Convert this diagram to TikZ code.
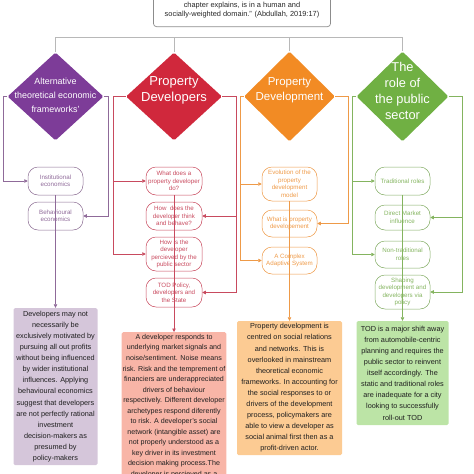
\documentclass[tikz,border=0pt]{standalone}
\usepackage{fontspec}
\setmainfont{Liberation Sans}
\usetikzlibrary{shapes.geometric,arrows.meta}
\definecolor{cpur}{HTML}{7D3C98}
\definecolor{cred}{HTML}{D0283C}
\definecolor{corg}{HTML}{F28B24}
\definecolor{cgrn}{HTML}{70B043}
\definecolor{lpur}{HTML}{8F6A99}
\definecolor{lred}{HTML}{C84A5E}
\definecolor{lorg}{HTML}{EE9A48}
\definecolor{lgrn}{HTML}{84B45F}
\definecolor{ptfill}{HTML}{D5C6DA}
\definecolor{rtfill}{HTML}{F8B5A7}
\definecolor{otfill}{HTML}{FCCB93}
\definecolor{gtfill}{HTML}{BCE4A6}
\definecolor{gline}{HTML}{B8B8B8}
\definecolor{gbord}{HTML}{8C8C8C}
\begin{document}
\begin{tikzpicture}[x=1pt,y=-1pt,
 dia/.style={diamond,draw=none,inner sep=0pt,rounded corners=1.5pt},
 diatext/.style={text=white,align=center,inner sep=0pt},
 qbox/.style={draw,rounded corners=10pt,minimum width=55pt,inner sep=1pt,align=center,font=\fontsize{6.2}{7.5}\selectfont,line width=0.5pt},
 tbox/.style={rounded corners=1.5pt,inner xsep=1pt,inner ysep=2pt,align=center,font=\fontsize{7.3}{11.1}\selectfont,text=black!88},
 conn/.style={line width=0.6pt,-{Triangle[length=3.5pt,width=3.5pt]}},
 plain/.style={line width=0.6pt},
]
\useasboundingbox (0,0) rectangle (474,474);

% top quote box
\node[draw=gbord,line width=0.7pt,rounded corners=3pt,minimum width=177pt,minimum height=40pt,anchor=south,inner sep=0pt] (top) at (242,27) {};
\node[align=center,inner sep=0pt,font=\fontsize{7.4}{9.3}\selectfont,text=black!85] (toptext) at (242,10.4) {chapter explains, is in a human and\\socially-weighted domain.” (Abdullah, 2019:17)};

% diamonds
\node[dia,fill=cpur,minimum width=96pt,minimum height=88pt] (d1) at (55.5,96.5) {};
\node[dia,fill=cred,minimum width=96pt,minimum height=88pt] (d2) at (174,96.5) {};
\node[dia,fill=corg,minimum width=91pt,minimum height=90pt] (d3) at (289.5,96.5) {};
\node[dia,fill=cgrn,minimum width=92pt,minimum height=90pt] (d4) at (402.5,96.5) {};
\node[diatext,font=\fontsize{8.9}{14}\selectfont] (d1t) at (55.5,95.7) {Alternative\\theoretical economic\\frameworks'};
\node[diatext,font=\fontsize{13}{16}\selectfont] (d2t) at (174,90) {Property\\Developers};
\node[diatext,font=\fontsize{11.5}{15}\selectfont] (d3t) at (289.5,90.7) {Property\\Development};
\node[diatext,font=\fontsize{12.8}{15.8}\selectfont] (d4t) at (402.5,91) {The\\role of\\the public\\sector};

% top connectors
\coordinate (hl) at (0,37);
\draw[plain,gline] (d1.north) -- (d1.north |- hl) -- (d4.north |- hl) -- (d4.north);
\draw[plain,gline] (d2.north) -- (d2.north |- hl);
\draw[plain,gline] (d3.north) -- (d3.north |- hl);

% purple column boxes
\node[qbox,draw=lpur!80!gray,text=lpur,minimum height=28pt] (p1) at (55.5,181) {Institutional\\economics};
\node[qbox,draw=lpur!80!gray,text=lpur,minimum height=28pt] (p2) at (55.5,216) {Behavioural\\economics};
% red
\node[qbox,draw=lred,text=lred,minimum width=56pt,minimum height=28pt] (r1) at (174,181) {What does a\\property developer\\do?};
\node[qbox,draw=lred,text=lred,minimum width=56pt,minimum height=28pt] (r2) at (174,216) {How\ \ does the\\developer think\\and behave?};
\node[qbox,draw=lred,text=lred,minimum width=56pt,minimum height=34pt] (r3) at (174,254) {How is the\\developer\\percieved by the\\public sector};
\node[qbox,draw=lred,text=lred,minimum width=56pt,minimum height=29pt] (r4) at (174,292.5) {TOD Policy,\\developers and\\the State};
% orange
\node[qbox,draw=lorg,text=lorg,minimum height=34pt] (o1) at (289.5,184) {Evolution of the\\property\\development\\model};
\node[qbox,draw=lorg,text=lorg,minimum height=27pt] (o2) at (289.5,223.5) {What is property\\developement};
\node[qbox,draw=lorg,text=lorg,minimum height=27pt] (o3) at (289.5,260.5) {A Complex\\Adaptive System};
% green
\node[qbox,draw=lgrn!85!gray,text=lgrn,minimum height=28pt] (g1) at (402.5,181) {Traditional roles};
\node[qbox,draw=lgrn!85!gray,text=lgrn,minimum height=25pt] (g2) at (402.5,217.5) {Direct Market\\influence};
\node[qbox,draw=lgrn!85!gray,text=lgrn,minimum height=27pt] (g3) at (402.5,254.5) {Non-traditional\\roles};
\node[qbox,draw=lgrn!85!gray,text=lgrn,minimum height=34pt] (g4) at (402.5,292) {Shaping\\development and\\developers via\\policy};

% text boxes
\node[tbox,fill=ptfill,minimum width=84pt,minimum height=157pt] (pt) at (55.5,386.5) {Developers may not\\necessarily be\\exclusively motivated by\\pursuing all out profits\\without being influenced\\by wider institutional\\influences. Applying\\behavioural economics\\suggest that developers\\are not perfectly rational\\investment\\decision-makers as\\presumed by\\policy-makers};
\node[tbox,fill=rtfill,minimum width=102pt,anchor=north,font=\fontsize{7.1}{10.55}\selectfont] (rt) at (174,332) {A developer responds to\\underlying market signals and\\noise/sentiment. Noise means\\risk. Risk and the temprement of\\financiers are underappreciated\\drivers of behaviour\\respectively. Different developer\\archetypes respond diferently\\to risk. A developer's social\\network (intangible asset) are\\not properly understood as a\\key driver in its investment\\decision making process.The\\developer is percieved as a};
\node[tbox,fill=otfill,minimum width=105pt,minimum height=134pt] (ot) at (289.5,388) {Property development is\\centred on social relations\\and networks. This is\\overlooked in mainstream\\theoretical economic\\frameworks. In accounting for\\the social responses to or\\drivers of the development\\process, policymakers are\\able to view a developer as\\social animal first then as a\\profit-driven actor.};
\node[tbox,fill=gtfill,minimum width=92pt,minimum height=104pt] (gt) at (402.5,373) {TOD is a major shift away\\from automobile-centric\\planning and requires the\\public sector to reinvent\\itself accordingly. The\\static and traditional roles\\are inadequate for a city\\looking to successfully\\roll-out TOD};

% side connectors
\draw[conn,lpur] (d1.west) -- ++(-4.5,0) |- (p1.west);
\draw[conn,lpur] (d1.east) -- ++(4.5,0) |- (p2.east);

\draw[conn,lred] (d2.west) -- ++(-13,0) coordinate (rl) |- (r3.west);
\draw[conn,lred] (rl |- r1.west) -- (r1.west);
\draw[conn,lred] (d2.east) -- ++(14,0) coordinate (rr) |- (r4.east);
\draw[conn,lred] (rr |- r2.east) -- (r2.east);

\draw[conn,lorg] (d3.west) -- ++(-4,0) coordinate (ol) |- (o3.west);
\draw[conn,lorg] (ol |- o1.west) -- (o1.west);
\draw[conn,lorg] (d3.east) -- ++(13,0) |- (o2.east);

\draw[conn,lgrn] (d4.west) -- ++(-4,0) coordinate (gl) |- (g3.west);
\draw[conn,lgrn] (gl |- g1.west) -- (g1.west);
\draw[conn,lgrn] (d4.east) -- ++(14,0) coordinate (gr) |- (g4.east);
\draw[conn,lgrn] (gr |- g2.east) -- (g2.east);

% central connectors
\draw[conn,lpur] (p1.south) -- (pt.north);
\draw[conn,lred] (r1.south) -- (rt.north);
\draw[conn,lorg] (o1.south) -- (ot.north);
\draw[conn,lgrn] (g1.south) -- (gt.north);
\end{tikzpicture}
\end{document}
